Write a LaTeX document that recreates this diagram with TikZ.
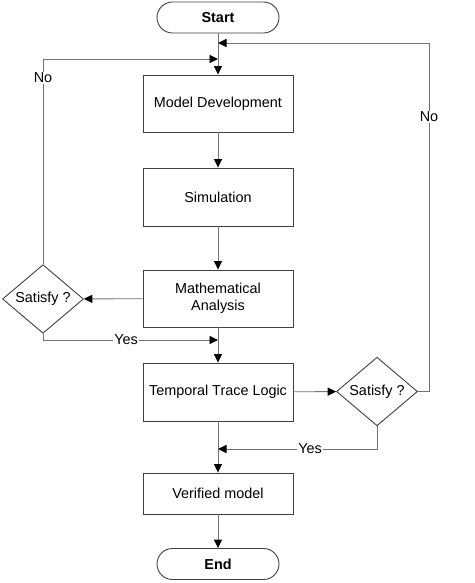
\documentclass[tikz,border=0pt]{standalone}
\usepackage{fontspec}
\setmainfont{Liberation Sans}
\usetikzlibrary{shapes.geometric,arrows.meta}
\begin{document}
\begin{tikzpicture}[x=1pt,y=-1pt,
  every node/.style={font=\fontsize{14.4}{17.5}\selectfont, text=black},
  boxnode/.style={draw=black!75, line width=0.9pt, minimum width=150pt, align=center, inner sep=0pt},
  term/.style={draw=black!75, line width=0.9pt, minimum width=122pt, minimum height=31pt, rounded corners=15.5pt, font=\fontsize{14.4}{17}\selectfont\bfseries, inner sep=0pt},
  dec/.style={draw=black!75, line width=0.9pt, diamond, minimum width=81pt, minimum height=57pt, inner sep=0pt},
  conn/.style={draw=black!55, line width=0.9pt, -{Triangle[length=8.5pt,width=8pt,fill=black,color=black]}},
  lbl/.style={fill=white, inner sep=1pt}]
\useasboundingbox (0,0) rectangle (474,583);
\node[term] (start) at (218,17.5) {Start};
\node[boxnode, minimum height=57pt] (md) at (218,103.5) {Model Development};
\node[boxnode, minimum height=58pt] (sim) at (218,197) {Simulation};
\node[boxnode, minimum height=57pt] (ma) at (218,298.5) {Mathematical\\Analysis};
\node[boxnode, minimum height=58pt] (ttl) at (218,392) {Temporal Trace Logic};
\node[boxnode, minimum height=41pt] (vm) at (218,493.5) {Verified model};
\node[term] (end) at (218,564) {End};
\node[dec] (d1) at (43,299) {Satisfy ?};
\node[dec] (d2) at (377,391.5) {Satisfy ?};
\coordinate (jR) at (218,43);
\coordinate (jL) at (218,59);
\coordinate (jY1) at (218,340);
\coordinate (jY2) at (218,449);
\coordinate (rc) at (429,391.5);
% main flow
\draw[conn] (start) -- (md);
\draw[conn] (md) -- (sim);
\draw[conn] (sim) -- (ma);
\draw[conn] (ma) -- (ttl);
\draw[conn] (ttl) -- (vm);
\draw[conn] (vm) -- (end);
\draw[conn] (ma) -- (d1);
\draw[conn] (ttl) -- (d2);
% loops
\draw[conn] (d1.north) |- (jL);
\draw[conn] (d1.south) |- (jY1);
\draw[conn] (d2.east) -- (rc) |- (jR);
\draw[conn] (d2.south) |- (jY2);
% labels
\node[lbl] (noL) at (43,78) {No};
\node[lbl] (noR) at (429,117) {No};
\node[lbl] (yesL) at (126,340) {Yes};
\node[lbl] (yesR) at (310,449) {Yes};
\end{tikzpicture}
\end{document}
